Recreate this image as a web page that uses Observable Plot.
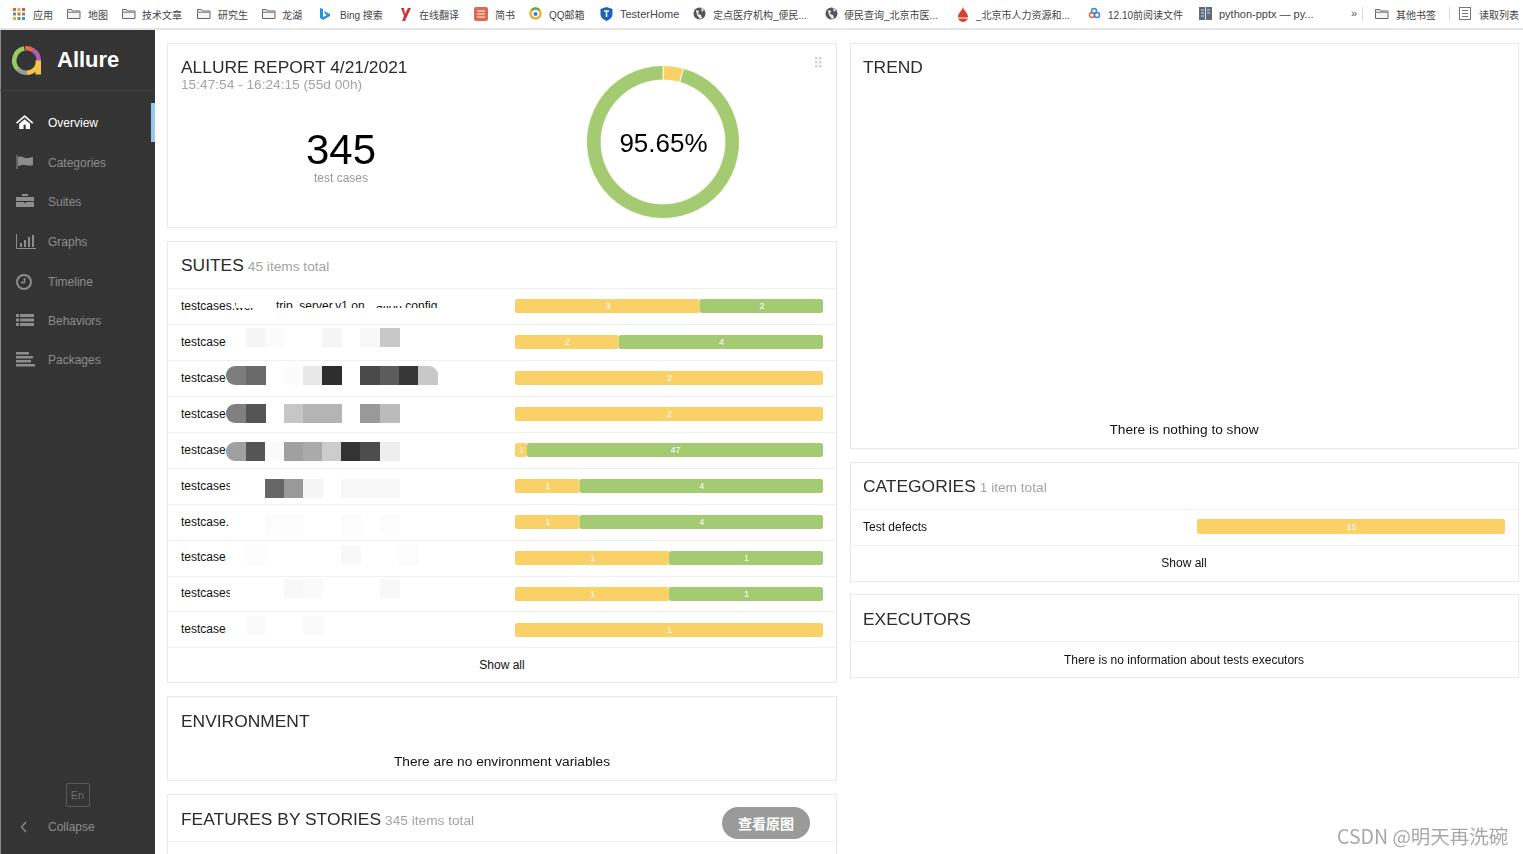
<!DOCTYPE html>
<html>
<head>
<meta charset="utf-8">
<script src="https://cdn.jsdelivr.net/npm/d3@7"></script>
<script src="https://cdn.jsdelivr.net/npm/@observablehq/plot@0.6"></script>
<style>
  html, body { margin: 0; padding: 0; background: #fff; overflow: hidden; }
  #page { position: relative; width: 1523px; height: 854px; overflow: hidden; font-family: "Liberation Sans", Arial, sans-serif; color: #111; filter: blur(.3px); }
  #page div { position: absolute; }
  .t { white-space: nowrap; transform: translateY(-50%); }
  .c { transform: translate(-50%, -50%); }
  .card { background: #fff; border: 1px solid #e9e9e9; box-sizing: border-box; }
  svg { display: block; overflow: visible; }
</style>
</head>
<body>
<div id="page"></div>
<script>
// overview numbers
const statuses = ["broken", "passed"];
const statusColors = ["#fad166", "#a4cb72"];
const totalCases = 345;
const donutCounts = [15, 330];
const donutLabel = "95.65%";

const suiteRows = ["s1", "s2", "s3", "s4", "s5", "s6", "s7", "s8", "s9", "s10"];
const suiteLabels = ["testcases.wei", "testcase", "testcase", "testcase", "testcase", "testcases", "testcase.", "testcase", "testcases", "testcase"];
const suiteBroken = [3, 2, 2, 2, 1, 1, 1, 1, 1, 1];
const suitePassed = [2, 4, 0, 0, 47, 4, 4, 1, 1, 0];
const suiteBrokenShare = [60, 33.7, 100, 100, 3.9, 21, 21, 50, 50, 100];

const categoryBroken = [15];

const page = d3.select("#page");

function put(text, x, cy, o = {}) {
  return page.append("div").attr("class", o.center ? "t c" : "t")
    .style("left", x + "px").style("top", cy + "px")
    .style("font-size", (o.size || 12) + "px")
    .style("color", o.color || "#111")
    .style("font-weight", o.weight || 400)
    .style("font-family", o.font || null)
    .text(text);
}
function box(x, y, w, h, bg, cls) {
  return page.append("div").attr("class", cls || null)
    .style("left", x + "px").style("top", y + "px")
    .style("width", w + "px").style("height", h + "px")
    .style("background", bg);
}
function icon(x, y, w, h, inner) {
  return page.append("div").style("left", x + "px").style("top", y + "px")
    .html(`<svg width="${w}" height="${h}" viewBox="0 0 ${w} ${h}">${inner}</svg>`);
}

// bookmarks bar
const cjk = '"Noto Sans CJK SC", "Liberation Sans", sans-serif';
const barFont = '"Liberation Sans", "Noto Sans CJK SC", sans-serif';
const folder = '<path d="M.5 2.500h4l1 1.500h7.500v7.500h-12.500z" fill="#f4f4f4" stroke="#666"/><path d="M.5 4.500h12.500v1.500h-12.500z" fill="#999"/>';
const globe = '<circle cx="6.500" cy="6.500" r="6" fill="#555"/><path d="M3 3l3 1-1 3 3 1 1 3-2 1-3-4zM8 1l3 2-2 2z" fill="#eee"/>';
const bookmarks = [
  [13, "grid", 33, "应用"], [67, "folder", 88, "地图"], [122, "folder", 142, "技术文章"], [197, "folder", 218, "研究生"], [262, "folder", 282, "龙湖"],
  [319, "bing", 340, "Bing 搜索"], [400, "y", 419, "在线翻译"], [474, "jian", 495, "简书"], [529, "qq", 549, "QQ邮箱"], [600, "shield", 620, "TesterHome"],
  [693, "globe", 713, "定点医疗机构_便民..."], [825, "globe", 844, "便民查询_北京市医..."], [956, "drop", 976, "_北京市人力资源和..."], [1089, "cloud", 1108, "12.10前阅读文件"],
  [1199, "book", 1219, "python-pptx — py..."], [1375, "folder", 1396, "其他书签"], [1459, "list", 1479, "读取列表"]
];
const glyphs = {
  grid: d3.range(9).map(i => `<rect x="${i % 3 * 4.5}" y="${Math.floor(i / 3) * 4.5 + 1}" width="3" height="3" fill="${["#e0653a", "#e8b030", "#d9534f", "#4a90d9", "#e0653a", "#57a55a", "#e8b030", "#57a55a", "#4a90d9"][i]}"/>`).join(""),
  folder,
  globe,
  bing: '<path d="M1 1l3 1v8l4-2-2-1-1-3 6 3v2l-7 4-3-2z" fill="#2f8fd8"/>',
  y: '<path d="M1 1h3l1 6 3-6h3l-6 13h-3l2-5z" fill="#d8303a"/>',
  jian: '<rect width="14" height="14" y="0" rx="2" fill="#e0694f"/><path d="M3 4h8M3 7h8M3 10h8" stroke="#fff"/>',
  qq: '<circle cx="6.500" cy="6.500" r="5" fill="none" stroke="#e8b030" stroke-width="2.500"/><path d="M3 3a5 5 0 0 1 7 0" fill="none" stroke="#57a55a" stroke-width="2.500"/><circle cx="6.500" cy="7" r="2" fill="#2f7fd8"/>',
  shield: '<path d="M.5 2l6-2 6 2v5c0 4-4 6-6 7-2-1-6-3-6-7z" fill="#1f5fc0"/><path d="M4 4h5M6.500 4v6" stroke="#fff" stroke-width="1.500"/>',
  drop: '<path d="M7 0c1 4 5 6 5 10a5 5 0 0 1-10 0c0-4 4-6 5-10z" fill="#d8402f"/><path d="M2 11h10" stroke="#fff"/>',
  cloud: '<circle cx="5" cy="4" r="2.500" fill="none" stroke="#3a86e0" stroke-width="1.500"/><circle cx="3" cy="8" r="2.500" fill="none" stroke="#e0653a" stroke-width="1.500"/><circle cx="8" cy="8" r="2.500" fill="none" stroke="#3a86e0" stroke-width="1.500"/>',
  book: '<rect width="13" height="13" fill="#5d6d7a"/><path d="M6.500 0v13M2 3h3M2 6h3M2 9h3M8 3h3M8 6h3" stroke="#dde"/>',
  list: '<rect x=".5" y=".5" width="11" height="12" fill="#fff" stroke="#777"/><path d="M3 3.500h6M3 6.500h6M3 9.500h6" stroke="#777"/>'
};
box(0, 0, 1523, 29, "#fff");
box(0, 28, 1523, 2, "#e4e4e4");
bookmarks.forEach(([ix, g, tx, label]) => {
  icon(ix, 7, 15, 15, glyphs[g]);
  // plain latin labels run wider than the cjk ones in the reference
  put(label, tx, 13.500, {size: /^[\x00-\u2100]+$/.test(label) ? 11 : 10, color: "#444", font: barFont});
});
put("»", 1351, 13, {size: 11, color: "#555"});
box(1362, 7, 1, 14, "#ddd");
box(1449, 7, 1, 14, "#ddd");

// sidebar
box(0, 30, 155, 824, "#343434");
box(0, 30, 1, 824, "#8a8a8a");
box(0, 90, 155, 1, "#424242");
box(151, 103, 4, 39, "#97c8ee");
const logoArc = d3.arc().innerRadius(10).outerRadius(14.5);
const logoColors = ["#e8674a", "#b35bb5", "#f5c24a", "#9a9a9a", "#97cc64"];
const logoStops = [-0.1, 0.55, 1.6, 3.1, 3.9, 6.1];
icon(12, 46, 29, 29, `<g transform="translate(14.500,14.500)">${logoColors.map((c, i) => `<path d="${logoArc({startAngle: logoStops[i], endAngle: logoStops[i + 1]})}" fill="${c}"/>`).join("")}<rect x="9" y="0" width="5.500" height="14" fill="#f5c24a"/></g>`);
put("Allure", 57, 60, {size: 22, color: "#fff", weight: 700});
const side = "#8d8d8d";
const menu = [
  ["Overview", 123, `<path d="M8 0l8 7-1 1-7-6-7 6-1-1zM3 8l5-4 5 4v5H9V9H7v4H3z" fill="#fff" transform="scale(1.08)"/>`],
  ["Categories", 163, `<path d="M1 0v14" stroke="${side}"/><path d="M2 2c4-2 6 2 10 1l5-1v8c-5 2-7-1-11 0l-4 1z" fill="${side}"/>`],
  ["Suites", 202, `<path d="M6 2V0h6v2M0 3h18v4H0zM0 8h8v1h2V8h8v5H0z" fill="${side}"/>`],
  ["Graphs", 242, `<path d="M.5 0v14.500H20" stroke="${side}" fill="none"/><path d="M4 9h2v4H4zM8 6h2v7H8zM12 3h2v10h-2zM16 1h2v12h-2z" fill="${side}"/>`],
  ["Timeline", 282, `<circle cx="8" cy="8" r="7" fill="none" stroke="${side}" stroke-width="2"/><path d="M8.500 4v4.500H5" fill="none" stroke="${side}" stroke-width="1.500"/>`],
  ["Behaviors", 321, `<path d="M0 1h3v3H0zM4 1h14v3H4zM0 5.500h3v3H0zM4 5.500h14v3H4zM0 10h3v3H0zM4 10h14v3H4z" fill="${side}"/>`],
  ["Packages", 360, `<path d="M0 0h13v2.500H0zM0 4h17v2.500H0zM0 8h15v2.500H0zM0 12h19v2.500H0z" fill="${side}"/>`]
];
menu.forEach(([label, cy, glyph], i) => {
  icon(16, cy - 8, 20, 16, glyph);
  put(label, 48, cy, {color: i ? side : "#fff"});
});
page.append("div").attr("class", "t c").style("left", "77.500px").style("top", "795px")
  .style("width", "24px").style("height", "24px").style("border", "1px solid #5a5a5a").style("border-radius", "2px")
  .style("box-sizing", "border-box").style("color", "#6e6e6e").style("font-size", "11px").style("line-height", "22px").style("text-align", "center").text("En");
icon(20, 821, 8, 12, `<path d="M6 1L1.500 6 6 11" fill="none" stroke="${side}" stroke-width="1.300"/>`);
put("Collapse", 48, 827, {color: side});

// widgets
box(167, 43, 670, 185, "#fff", "card");
box(167, 241, 670, 442, "#fff", "card");
box(167, 696, 670, 85, "#fff", "card");
box(167, 794, 670, 70, "#fff", "card");
box(850, 43, 669, 406, "#fff", "card");
box(850, 462, 669, 120, "#fff", "card");
box(850, 594, 669, 84, "#fff", "card");

const titleStyle = {size: 17.400, color: "#2b2b2b"};
put("ALLURE REPORT 4/21/2021", 181, 66.500, titleStyle);
put("15:47:54 - 16:24:15 (55d 00h)", 181, 84, {size: 13.700, color: "#a3a3a3"});
put(String(totalCases), 341, 150, {size: 42, center: true, color: "#000"});
put("test cases", 341, 178, {size: 12, color: "#999", center: true});
icon(815, 57, 8, 11, d3.range(6).map(i => `<rect x="${i % 2 * 4}" y="${Math.floor(i / 2) * 4}" width="2.500" height="2.500" fill="#d5d5d5"/>`).join(""));

function titled(title, note, x, cy) {
  const el = put(title, x, cy, titleStyle);
  if (note) el.append("span").style("font-size", "13.700px").style("color", "#a3a3a3").style("margin-left", "4px").text(note);
}
titled("SUITES", "45 items total", 181, 264.500);
titled("ENVIRONMENT", null, 181, 720.500);
titled("FEATURES BY STORIES", "345 items total", 181, 818.500);
titled("TREND", null, 863, 66.500);
titled("CATEGORIES", "1 item total", 863, 486);
titled("EXECUTORS", null, 863, 618.500);

[288, 324, 360, 396, 432, 468, 504, 540, 576, 611, 647].forEach(y => box(168, y, 668, 1, "#f0f0f0"));
box(168, 841, 668, 1, "#f0f0f0");
[509, 545].forEach(y => box(851, y, 667, 1, "#f0f0f0"));
box(851, 641, 667, 1, "#f0f0f0");

put("Show all", 502, 664.500, {center: true});
put("There are no environment variables", 502, 761, {size: 13.700, center: true});
put("There is nothing to show", 1184, 429, {size: 13.700, center: true});
put("Test defects", 863, 527);
put("Show all", 1184, 563, {center: true});
put("There is no information about tests executors", 1184, 659.500, {center: true});

// suite names, then the mosaic that hides them in the screenshot
const labelY = i => 306 + i * 36 - (i >= 7 ? 1 : 0);
suiteLabels.forEach((label, i) => put(label, 181, labelY(i)));
put("trip_server.v1.on", 276, 306);
put("ation.config", 376, 306);
box(236, 297, 40, 11, "#fff");
box(253, 297, 23, 18, "#fff");
box(270, 308, 180, 8, "#fff");
box(366, 297, 36, 9, "#fff");
box(375, 297, 30, 5, "#fff");
[5, 8].forEach(i => box(229.500, labelY(i) - 8, 8, 16, "#fff"));
const mosaicTop = [0, 328, 366, 404, 442, 479, 515, 546, 579, 616];
const mosaic = [
  [1, 246, "#f5f5f5"], [1, 265, "#fbfbfb"], [1, 322, "#f5f5f5"], [1, 360, "#f8f8f8"], [1, 380, "#c8c8c8"],
  [2, 226, "#7d7d7d"], [2, 246, "#6a6a6a"], [2, 284, "#fbfbfb"], [2, 303, "#e8e8e8"], [2, 322, "#2e2e2e"], [2, 360, "#4a4a4a"], [2, 380, "#5c5c5c"], [2, 399, "#363636"], [2, 418, "#c8c8c8"],
  [3, 226, "#808080"], [3, 246, "#555"], [3, 284, "#c6c6c6"], [3, 303, "#b4b4b4"], [3, 322, "#b4b4b4"], [3, 360, "#999"], [3, 380, "#bbb"],
  [4, 226, "#a0a0a0"], [4, 246, "#555"], [4, 265, "#fafafa"], [4, 284, "#a0a0a0"], [4, 303, "#aaa"], [4, 322, "#ccc"], [4, 341, "#333"], [4, 360, "#4d4d4d"], [4, 380, "#eee"],
  [5, 265, "#666"], [5, 284, "#999"], [5, 303, "#f5f5f5"], [5, 341, "#f8f8f8"], [5, 360, "#f8f8f8"], [5, 380, "#f8f8f8"],
  [6, 265, "#fcfcfc"], [6, 284, "#fcfcfc"], [6, 341, "#fcfcfc"], [6, 380, "#fcfcfc"],
  [7, 246, "#fcfcfc"], [7, 341, "#f8f8f8"], [7, 399, "#fcfcfc"],
  [8, 284, "#f8f8f8"], [8, 303, "#fafafa"], [8, 380, "#f8f8f8"],
  [9, 246, "#fafafa"], [9, 303, "#fafafa"]
];
mosaic.forEach(([row, x, c]) => {
  const cell = box(x, mosaicTop[row], 19.500, 19, c).style("filter", "blur(.5px)");
  if (x == 226) cell.style("border-radius", "9px 0 0 9px");
  if (x == 418) cell.style("border-radius", "0 9px 0 0");
});

// charts
const stackedRows = suiteRows.flatMap((row, i) => [
  {row, status: "broken", share: suiteBrokenShare[i], count: suiteBroken[i]},
  {row, status: "passed", share: 100 - suiteBrokenShare[i], count: suitePassed[i]}
]);
function barPlot(rows, domainY, height, paddingInner) {
  const stack = {x: "share", y: "row", z: "status", order: statuses};
  return Plot.plot({
    width: 308, height, margin: 0,
    x: {domain: [0, 100], axis: null},
    y: {domain: domainY, axis: null, paddingInner, paddingOuter: paddingInner / 2},
    color: {domain: statuses, range: statusColors},
    style: {background: "transparent", fontFamily: "Liberation Sans"},
    marks: [
      Plot.barX(rows, Plot.stackX({...stack, fill: "status", rx: 2})),
      Plot.text(rows.filter(d => d.count > 0), Plot.stackX({...stack, text: "count", fill: "#fff", fontSize: 9}))
    ]
  });
}
function mount(chart, x, y) {
  page.append("div").style("left", x + "px").style("top", y + "px").append(() => chart);
}
mount(barPlot(stackedRows, suiteRows, 360, 0.61), 515, 287.500);

const categoryRows = [{row: "Test defects", status: "broken", share: 100, count: categoryBroken[0]}];
mount(barPlot(categoryRows, ["Test defects"], 36, 0.58), 1197, 509);

// donut, Plot has no arc mark so it goes in as a function mark
const donut = Plot.plot({
  width: 160, height: 160, margin: 0,
  x: {domain: [0, 1], axis: null},
  y: {domain: [0, 1], axis: null},
  style: {background: "transparent", fontFamily: "Liberation Sans"},
  marks: [
    (index, scales, values, dims) => {
      const slices = d3.pie().sort(null)(donutCounts);
      const arc = d3.arc().innerRadius(62).outerRadius(76.500);
      const g = d3.create("svg:g").attr("transform", `translate(${dims.width / 2},${dims.height / 2})`);
      g.selectAll("path").data(slices).join("path")
        .attr("d", arc).attr("fill", (d, i) => statusColors[i])
        .attr("stroke", "#fff").attr("stroke-width", 0.8);
      return g.node();
    },
    Plot.text([donutLabel], {x: () => 0.5, y: () => 0.49, text: d => d, fontSize: 26, fill: "#000"})
  ]
});
mount(donut, 583, 62);

// screenshot leftovers on top of the page
page.append("div").attr("class", "t c").style("left", "766px").style("top", "823px").style("width", "88px").style("height", "32px")
  .style("background", "#9a9a9a").style("border-radius", "16px").style("color", "#fff").style("font", `700 14px/32px ${cjk}`).style("text-align", "center").text("查看原图");
put("CSDN @明天再洗碗", 1337, 835, {size: 19.500, color: "#a8a8a8", font: cjk});
</script>
</body>
</html>
